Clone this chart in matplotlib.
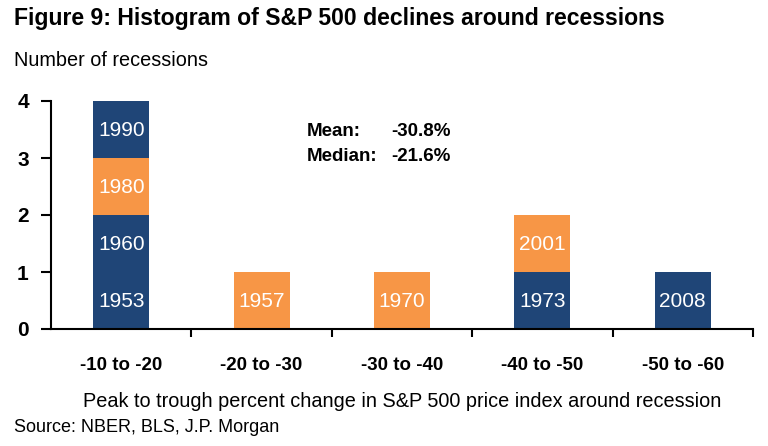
import matplotlib
matplotlib.use("Agg")
import matplotlib.pyplot as plt

categories = ['-10 to -20', '-20 to -30', '-30 to -40', '-40 to -50', '-50 to -60']
years = [[1953, 1960, 1980, 1990], [1957], [1970], [1973, 2001], [2008]]
series = [['navy', 'navy', 'orange', 'navy'], ['orange'], ['orange'], ['navy', 'orange'], ['navy']]
yticks = [0, 1, 2, 3, 4]
mean_val = -30.8
median_val = -21.6

colors = {'navy': '#1F4577', 'orange': '#F79646'}

plt.rcParams['font.family'] = ['Liberation Sans', 'DejaVu Sans']

fig = plt.figure(figsize=(7.68, 4.46), dpi=100)
ax = fig.add_axes([51/768, 1-329/446, (753-51)/768, (329-101)/446])

for i, (ys, ss) in enumerate(zip(years, series)):
    for j, (yr, s) in enumerate(zip(ys, ss)):
        ax.bar(i, 1, bottom=j, width=0.4, color=colors[s], edgecolor='none')
        ax.text(i, j + 0.48, str(yr), ha='center', va='center', color='white',
                fontsize=15)

ax.set_xlim(-0.5, len(categories) - 0.5)
ax.set_ylim(0, 4)
ax.set_yticks(yticks)
ax.set_yticklabels([str(t) for t in yticks], fontsize=15, fontweight='bold')
ax.set_xticks(range(len(categories)))
ax.set_xticklabels(categories, fontsize=13.5, fontweight='bold')
ax.tick_params(axis='x', length=0, pad=20)
ax.set_xticks([i + 0.5 for i in range(len(categories))], minor=True)
ax.tick_params(axis='x', which='minor', length=6, width=1.5, direction='out')
ax.tick_params(axis='y', length=7, width=1.5, direction='out', pad=9)
for s in ['top', 'right']:
    ax.spines[s].set_visible(False)
for s in ['left', 'bottom']:
    ax.spines[s].set_linewidth(1.5)

ax.set_xlabel('Peak to trough percent change in S&P 500 price index around recession',
              fontsize=14.3, labelpad=13)

ax.text(1.32, 3.47, 'Mean:', fontsize=13.5, fontweight='bold', va='center', ha='left')
ax.text(1.92, 3.47, f'{mean_val:.1f}%', fontsize=13.5, fontweight='bold', va='center', ha='left')
ax.text(1.32, 3.02, 'Median:', fontsize=13.5, fontweight='bold', va='center', ha='left')
ax.text(1.92, 3.02, f'{median_val:.1f}%', fontsize=13.5, fontweight='bold', va='center', ha='left')

fig.text(14/768, 1-19/446, 'Figure 9: Histogram of S&P 500 declines around recessions',
         fontsize=16.6, fontweight='bold', va='center', ha='left')
fig.text(14/768, 1-61/446, 'Number of recessions', fontsize=14.3, va='center', ha='left')
fig.text(14/768, 1-428/446, 'Source: NBER, BLS, J.P. Morgan', fontsize=13, va='center', ha='left')

fig.savefig('out.png', dpi=100)
